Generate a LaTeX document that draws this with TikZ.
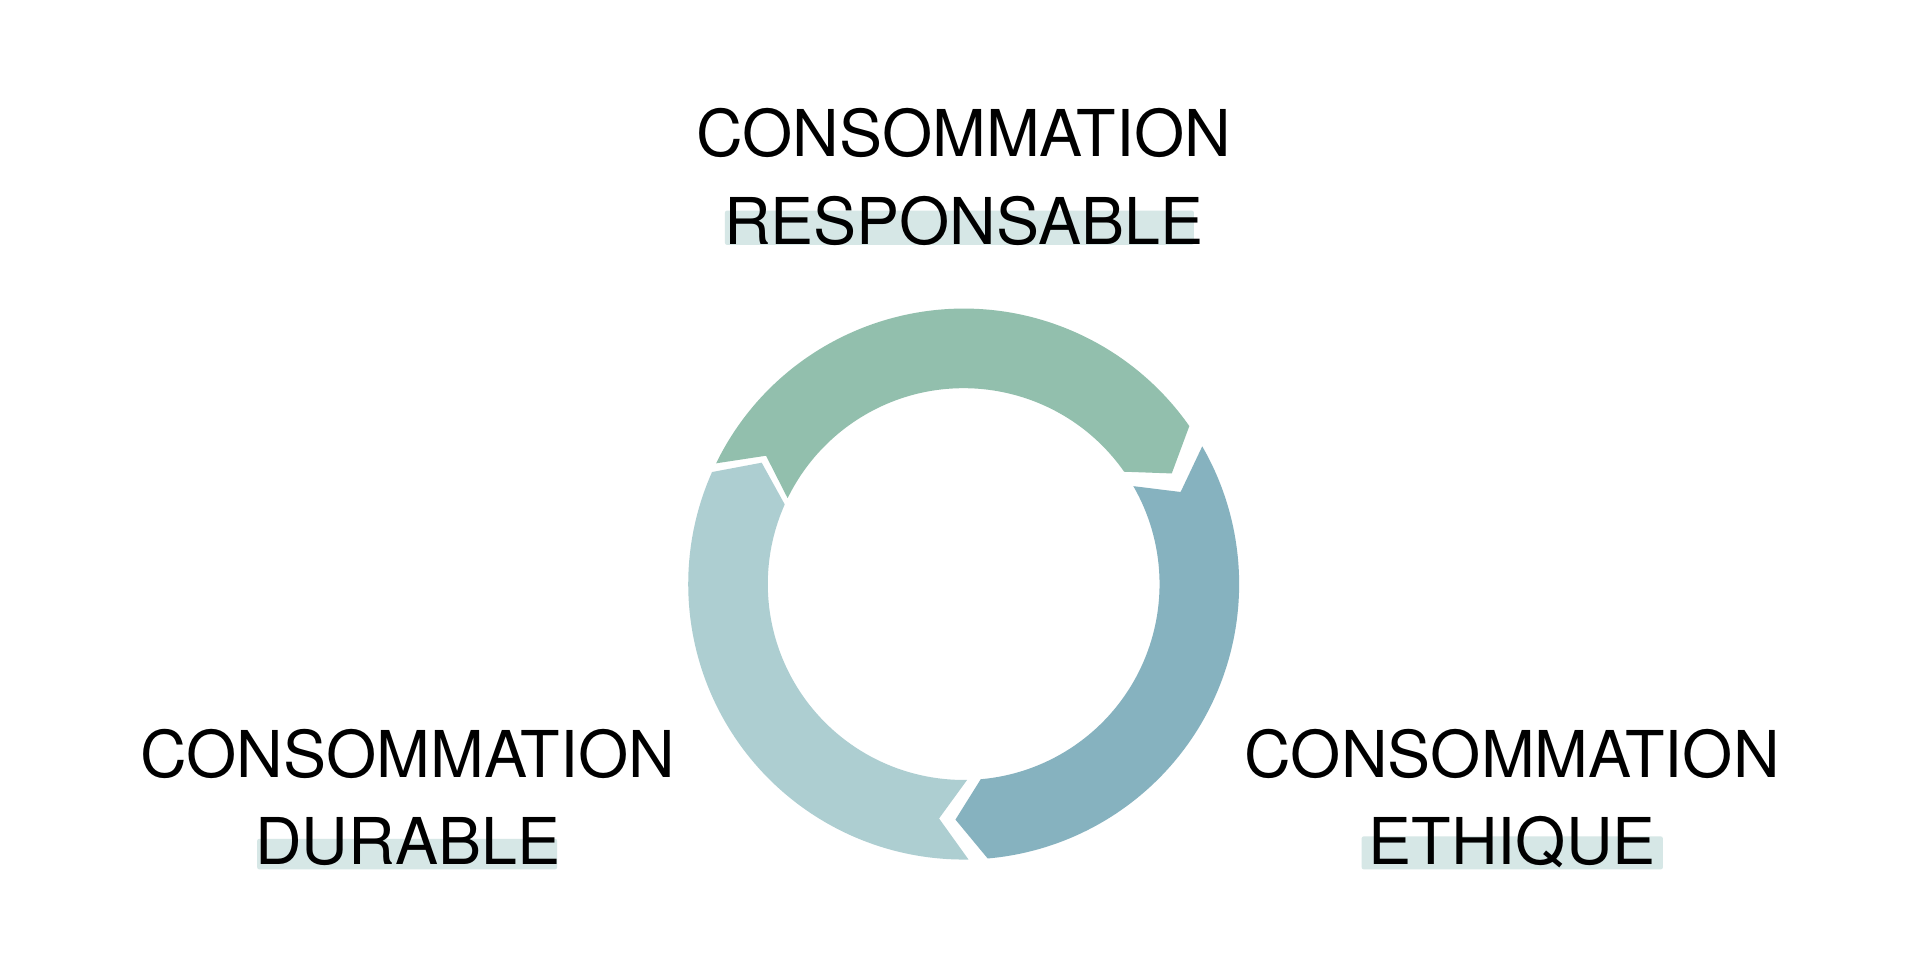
\documentclass[tikz,border=0pt]{standalone}
\usepackage{fontspec}
\setmainfont{TeX Gyre Heros}
\definecolor{cgreen}{HTML}{92BFAD}
\definecolor{cblue}{HTML}{86B2BF}
\definecolor{clight}{HTML}{ADCED1}
\definecolor{chl}{HTML}{D6E7E6}
\begin{document}
\begin{tikzpicture}[x=0.02cm,y=-0.02cm,
  lbl/.style={font=\fontsize{30}{30}\selectfont, inner sep=0pt, anchor=base},
  hl/.style={fill=chl, draw=none, rounded corners=1pt}]
\useasboundingbox[fill=white] (0,0) rectangle (1568,800);
\fill[hl] (592,172) rectangle (975,200);
\fill[hl] (210,685) rectangle (455,710);
\fill[hl] (1112,683) rectangle (1358,710);
\node[lbl] (t1) at (787,128) {CONSOMMATION};
\node[lbl] (t2) at (787,200) {RESPONSABLE};
\node[lbl] (l1) at (333,635) {CONSOMMATION};
\node[lbl] (l2) at (333,706) {DURABLE};
\node[lbl] (r1) at (1235,635) {CONSOMMATION};
\node[lbl] (r2) at (1235,706) {ETHIQUE};
\begin{scope}[shift={(787,477)}]
\fill[cgreen] (154:4.5cm) arc[start angle=154,end angle=35,radius=4.5cm] -- (28:3.85cm) -- (35:3.2cm) arc[start angle=35,end angle=154,radius=3.2cm] -- (147:3.85cm) -- cycle;
\fill[cblue] (30:4.5cm) arc[start angle=30,end angle=-85,radius=4.5cm] -- (-92:3.85cm) -- (-85:3.2cm) arc[start angle=-85,end angle=30,radius=3.2cm] -- (23:3.85cm) -- cycle;
\fill[clight] (271:4.5cm) arc[start angle=271,end angle=156,radius=4.5cm] -- (149:3.85cm) -- (156:3.2cm) arc[start angle=156,end angle=271,radius=3.2cm] -- (264:3.85cm) -- cycle;
\end{scope}
\end{tikzpicture}
\end{document}
